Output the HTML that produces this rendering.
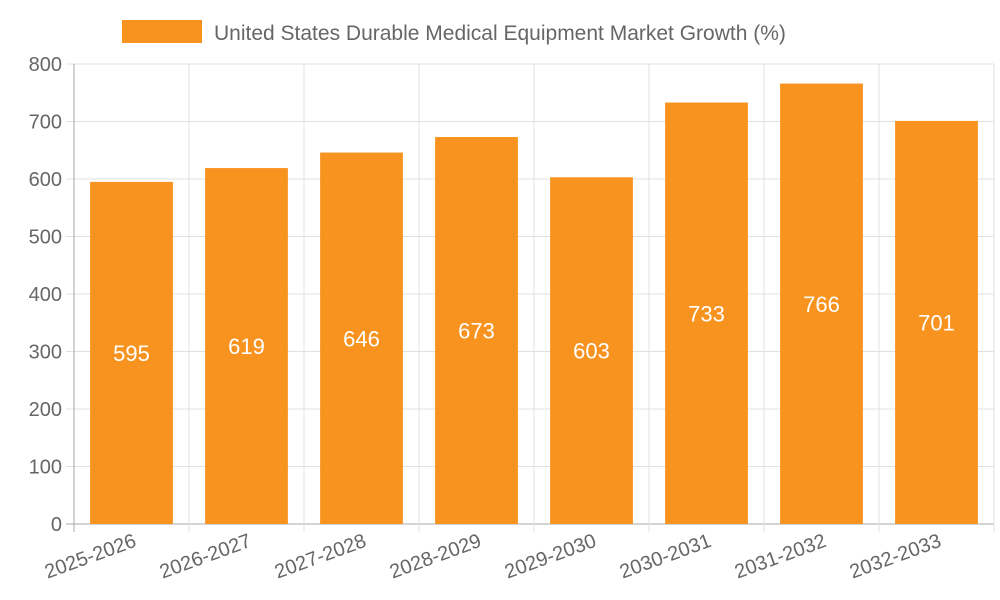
<!DOCTYPE html>
<html><head><meta charset="utf-8"><style>
body{margin:0;background:#fff;}
svg{display:block;font-family:"Liberation Sans",sans-serif;}
</style></head><body>
<svg id="chart" width="1000" height="600">
<rect x="122" y="20" width="80" height="23" fill="#f7931e"/>
<text x="214" y="40" font-size="21" fill="#666">United States Durable Medical Equipment Market Growth (%)</text>
<g id="grid"></g><g id="bars"></g><g id="axes"></g>
</svg>
<script>
const categories=["2025-2026","2026-2027","2027-2028","2028-2029","2029-2030","2030-2031","2031-2032","2032-2033"];
const values=[595,619,646,673,603,733,766,701];
const yTicks=[0,100,200,300,400,500,600,700,800];
const X0=74,X1=994,Y0=524,Y1=64,YMAX=800;
const ns="http://www.w3.org/2000/svg";
const bw=(X1-X0)/categories.length;
function y(v){return Y0-(v/YMAX)*(Y0-Y1);}
function x(i){return X0+i*bw;}
function mk(t,a,p){const e=document.createElementNS(ns,t);for(const k in a)e.setAttribute(k,a[k]);p.appendChild(e);return e;}
const grid=document.getElementById('grid'),bars=document.getElementById('bars'),axes=document.getElementById('axes');
yTicks.forEach(t=>{
 const l=mk('line',{x1:X0-8,x2:X1,y1:y(t),y2:y(t),stroke:t===0?'#aaa':'#e0e0e0','stroke-width':1},grid);
 
 
 const tx=mk('text',{x:X0-12,y:y(t)+7,'text-anchor':'end','font-size':20,fill:'#666'},axes);
 tx.textContent=t;
 
 
});
for(let i=0;i<=categories.length;i++){
 const l=mk('line',{x1:x(i),x2:x(i),y1:Y1,y2:Y0+8,stroke:i===0?'#aaa':'#e0e0e0','stroke-width':1},grid);
 
 
}
categories.forEach((c,i)=>{
 const cx=x(i)+bw/2,w=bw*0.72;
 const r=mk('rect',{x:cx-w/2,y:y(values[i]),width:w,height:Y0-y(values[i]),fill:'#f7931e'},bars);
 
 
 const vt=mk('text',{x:cx,y:(y(values[i])+Y0)/2+8,'text-anchor':'middle','font-size':22,fill:'#fff'},bars);
 vt.textContent=values[i];
 
 
 const lt=mk('text',{x:cx+6,y:Y0+22,'text-anchor':'end','font-size':20,fill:'#666',transform:`rotate(-20 ${cx+6} ${Y0+22})`},axes);
 lt.textContent=c;
 
 
});
const ax=mk('line',{x1:X0,x2:X0,y1:Y1,y2:Y0+8,stroke:'#aaa'},axes);


</script>
</body></html>
